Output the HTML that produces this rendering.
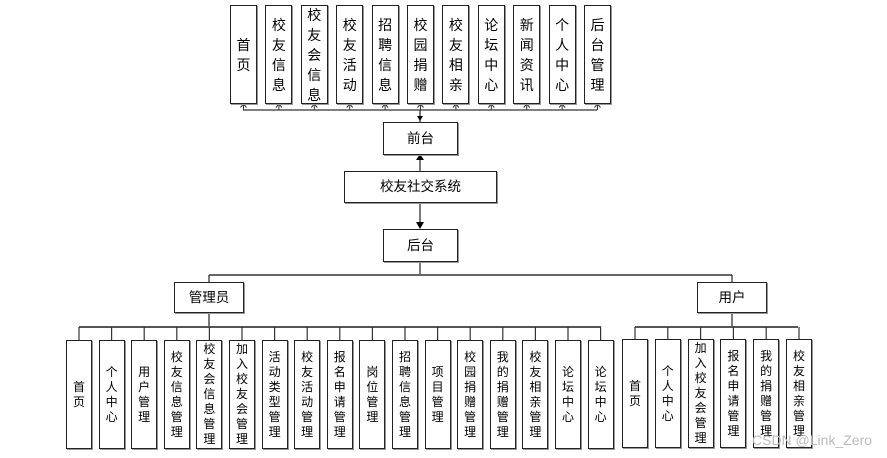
<!DOCTYPE html>
<html><head><meta charset="utf-8"><style>
body{margin:0;width:887px;height:458px;background:#fff;position:relative;overflow:hidden;font-family:"Liberation Sans","Noto Sans CJK SC",sans-serif;color:#000}
.b{position:absolute;box-sizing:border-box;border:1px solid #222;background:#fff;box-shadow:1px 1px 0 #999;display:flex;align-items:center;justify-content:center;text-align:center}
.v{flex-direction:column;font-size:12px;line-height:15px}
.t{font-size:13.5px;line-height:18px}
svg{position:absolute;left:0;top:0}
.wm{position:absolute;left:752px;top:432px;font-size:14px;color:#bbb}
</style></head><body>
<svg width="887" height="458">
<g stroke="#333" stroke-width="1.3" fill="none">
<line x1="243" y1="110" x2="597" y2="110"/>
<line x1="420" y1="110" x2="420" y2="122"/>
<line x1="420" y1="160" x2="420" y2="171"/>
<line x1="420" y1="203" x2="420" y2="222"/>
<line x1="420" y1="262" x2="420" y2="275"/>
<line x1="209" y1="275" x2="732" y2="275" stroke="#666" stroke-width="2"/>
<line x1="209" y1="275" x2="209" y2="282"/>
<line x1="732" y1="275" x2="732" y2="282"/>
<line x1="209" y1="313" x2="209" y2="327"/>
<line x1="79" y1="327" x2="601" y2="327" stroke="#555" stroke-width="2"/>
<line x1="732" y1="313" x2="732" y2="327"/>
<line x1="635" y1="327" x2="798" y2="327" stroke="#555" stroke-width="2"/>
</g>
<g fill="#000">
<polygon points="416,160 424,160 420,154"/>
<polygon points="416,222 424,222 420,229"/>
<polygon points="417,116 423,116 420,121"/>
</g>
<g id="tops" stroke="#333" stroke-width="1" fill="none"></g>
<g id="drops" stroke="#333" stroke-width="1.2"></g>
</svg>
<div id="c"></div>
<div class="b t" style="left:383px;top:122px;width:75px;height:33px">前台</div>
<div class="b t" style="left:344px;top:171px;width:153px;height:32px">校友社交系统</div>
<div class="b t" style="left:383px;top:229px;width:75px;height:33px">后台</div>
<div class="b t" style="left:174px;top:282px;width:70px;height:31px">管理员</div>
<div class="b t" style="left:697px;top:282px;width:70px;height:31px">用户</div>
<div class="wm">CSDN @Link_Zero</div>
<script>
(function(){
var c=document.getElementById('c'),tops=document.getElementById('tops'),drops=document.getElementById('drops');
var ns='http://www.w3.org/2000/svg';
function box(x,y,w,h,txt,cls){var d=document.createElement('div');d.className='b v';d.style.cssText='left:'+x+'px;top:'+y+'px;width:'+w+'px;height:'+h+'px;'+(cls||'');d.innerHTML=txt.split('').join('<br>');c.appendChild(d);}
function line(g,x1,y1,x2,y2){var l=document.createElementNS(ns,'line');l.setAttribute('x1',x1);l.setAttribute('y1',y1);l.setAttribute('x2',x2);l.setAttribute('y2',y2);g.appendChild(l);}
var topLabels=['首页','校友信息','校友会信息','校友活动','招聘信息','校园捐赠','校友相亲','论坛中心','新闻资讯','个人中心','后台管理'];
topLabels.forEach(function(t,i){var x=230+i*35.4;box(x,5,27,99,t,'font-size:14px;line-height:20px');var cx=x+13.5;line(tops,cx,104,cx,110);line(tops,cx-3,107.5,cx,104);line(tops,cx+3,107.5,cx,104);});
var adm=['首页','个人中心','用户管理','校友信息管理','校友会信息管理','加入校友会管理','活动类型管理','校友活动管理','报名申请管理','岗位管理','招聘信息管理','项目管理','校园捐赠管理','我的捐赠管理','校友相亲管理','论坛中心','论坛中心'];
adm.forEach(function(t,i){var x=66+i*32.6;box(x,340,26,109,t);line(drops,x+13,327,x+13,340);});
var usr=['首页','个人中心','加入校友会管理','报名申请管理','我的捐赠管理','校友相亲管理'];
usr.forEach(function(t,i){var x=622+i*32.8;box(x,339,26,109,t);line(drops,x+13,327,x+13,339);});
})();
</script>
</body></html>
